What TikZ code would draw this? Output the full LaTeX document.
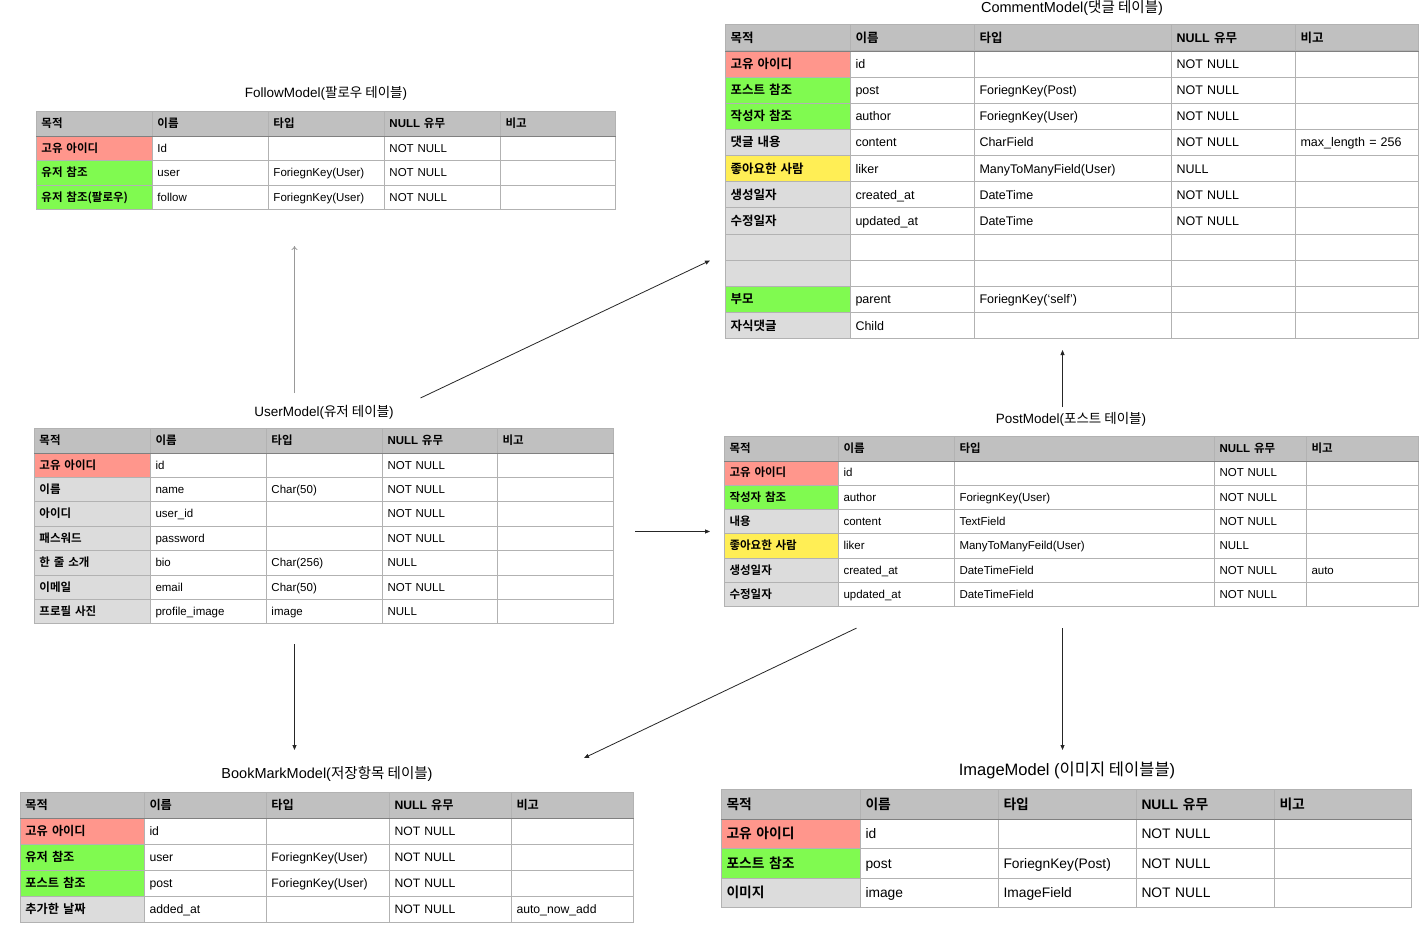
\documentclass[tikz,border=0pt]{standalone}
\usepackage{fontspec}
\setmainfont{Liberation Sans}
\newfontfamily\kr{Noto Sans CJK KR}[BoldFont={Noto Sans CJK KR Bold}]
\usetikzlibrary{matrix,arrows.meta}
\definecolor{keyred}{RGB}{255,150,140}
\definecolor{keygreen}{RGB}{128,250,80}
\definecolor{keyyellow}{RGB}{255,238,85}
\definecolor{keygray}{RGB}{220,220,220}
\definecolor{headgray}{RGB}{192,192,192}
\definecolor{gridgray}{RGB}{178,178,178}
\begin{document}
\begin{tikzpicture}[x=1pt,y=-1pt,
    title/.style={inner sep=1pt, font=\fontsize{13.5}{16}\selectfont},
    tbl/.style={matrix of nodes, nodes in empty cells, inner sep=0pt, column sep=-0.6pt, row sep=-0.6pt, anchor=north west,
        font=\fontsize{#1}{#1}\selectfont,
        nodes={draw=gridgray, line width=0.6pt, fill=white, anchor=center, align=left, inner xsep=5pt, inner ysep=0pt},
        row 1/.style={nodes={fill=headgray, font=\fontsize{#1}{#1}\selectfont\bfseries}},
        column 1/.style={nodes={fill=keygray, font=\fontsize{#1}{#1}\selectfont\kr\bfseries}}},
    cols/.style n args={5}{column 1/.append style={nodes={text width=#1}},
        column 2/.style={nodes={text width=#2}}, column 3/.style={nodes={text width=#3}},
        column 4/.style={nodes={text width=#4}}, column 5/.style={nodes={text width=#5}}},
    arr/.style={-{Triangle[length=5pt,width=4pt]}, line width=0.8pt, black!85},
    openarr/.style={-{To[length=4pt,width=6pt]}, line width=0.8pt, gray!80},
    headline/.style={draw=gray, line width=0.9pt}]
    \fill[white] (0,0) rectangle (1426,944);
    \useasboundingbox (0,0) rectangle (1426,944);

    \node[title] (followtitle) at (326,93) {FollowModel({\kr 팔로우 테이블})};
    \matrix (follow) [tbl=11.5, cols={106pt}{106pt}{106pt}{106pt}{105pt},
        nodes={minimum height=24.5pt, text height=9pt, text depth=1.2pt}] at (36,111) {
        {\kr 목적} & {\kr 이름} & {\kr 타입} & NULL {\kr 유무} & {\kr 비고} \\
        |[fill=keyred]| 고유 아이디 & Id & & NOT NULL & \\
        |[fill=keygreen]| 유저 참조 & user & ForiegnKey(User) & NOT NULL & \\
        |[fill=keygreen]| 유저 참조(팔로우) & follow & ForiegnKey(User) & NOT NULL & \\
    };

    \node[title] (usertitle) at (324,412) {UserModel({\kr 유저 테이블})};
    \matrix (user) [tbl=11.5, cols={106pt}{106pt}{106pt}{105pt}{106pt},
        nodes={minimum height=24.4pt, text height=9pt, text depth=1.2pt}] at (34,428) {
        {\kr 목적} & {\kr 이름} & {\kr 타입} & NULL {\kr 유무} & {\kr 비고} \\
        |[fill=keyred]| 고유 아이디 & id & & NOT NULL & \\
        이름 & name & Char(50) & NOT NULL & \\
        아이디 & user\_id & & NOT NULL & \\
        패스워드 & password & & NOT NULL & \\
        한 줄 소개 & bio & Char(256) & NULL & \\
        이메일 & email & Char(50) & NOT NULL & \\
        프로필 사진 & profile\_image & image & NULL & \\
    };

    \node[title, font=\fontsize{14.5}{17}\selectfont] (commenttitle) at (1072,8) {CommentModel({\kr 댓글 테이블})};
    \matrix (comment) [tbl=12.5, cols={115pt}{114pt}{187pt}{114pt}{113pt},
        nodes={minimum height=26.17pt, text height=10pt, text depth=0.8pt}] at (725,24) {
        {\kr 목적} & {\kr 이름} & {\kr 타입} & NULL {\kr 유무} & {\kr 비고} \\
        |[fill=keyred]| 고유 아이디 & id & & NOT NULL & \\
        |[fill=keygreen]| 포스트 참조 & post & ForiegnKey(Post) & NOT NULL & \\
        |[fill=keygreen]| 작성자 참조 & author & ForiegnKey(User) & NOT NULL & \\
        댓글 내용 & content & CharField & NOT NULL & max\_length = 256 \\
        |[fill=keyyellow]| 좋아요한 사람 & liker & ManyToManyField(User) & NULL & \\
        생성일자 & created\_at & DateTime & NOT NULL & \\
        수정일자 & updated\_at & DateTime & NOT NULL & \\
        & & & & \\
        & & & & \\
        |[fill=keygreen]| 부모 & parent & ForiegnKey(‘self’) & & \\
        자식댓글 & Child & & & \\
    };

    \node[title] (posttitle) at (1071,419) {PostModel({\kr 포스트 테이블})};
    \matrix (post) [tbl=11.5, cols={104pt}{106pt}{250pt}{82pt}{102pt},
        nodes={minimum height=24.3pt, text height=9pt, text depth=1.2pt}] at (724,436) {
        {\kr 목적} & {\kr 이름} & {\kr 타입} & NULL {\kr 유무} & {\kr 비고} \\
        |[fill=keyred]| 고유 아이디 & id & & NOT NULL & \\
        |[fill=keygreen]| 작성자 참조 & author & ForiegnKey(User) & NOT NULL & \\
        내용 & content & TextField & NOT NULL & \\
        |[fill=keyyellow]| 좋아요한 사람 & liker & ManyToManyFeild(User) & NULL & \\
        생성일자 & created\_at & DateTimeField & NOT NULL & auto \\
        수정일자 & updated\_at & DateTimeField & NOT NULL & \\
    };

    \node[title, font=\fontsize{14.5}{17}\selectfont] (bookmarktitle) at (327,774) {BookMarkModel({\kr 저장항목 테이블})};
    \matrix (bookmark) [tbl=12.2, cols={114pt}{112pt}{113pt}{112pt}{112pt},
        nodes={minimum height=26pt, text height=9.7pt, text depth=1pt}] at (20,792) {
        {\kr 목적} & {\kr 이름} & {\kr 타입} & NULL {\kr 유무} & {\kr 비고} \\
        |[fill=keyred]| 고유 아이디 & id & & NOT NULL & \\
        |[fill=keygreen]| 유저 참조 & user & ForiegnKey(User) & NOT NULL & \\
        |[fill=keygreen]| 포스트 참조 & post & ForiegnKey(User) & NOT NULL & \\
        추가한 날짜 & added\_at & & NOT NULL & auto\_now\_add \\
    };

    \node[title, font=\fontsize{16.5}{19}\selectfont] (imagetitle) at (1067,770) {ImageModel ({\kr 이미지 테이블블})};
    \matrix (image) [tbl=13.8, cols={129pt}{128pt}{128pt}{128pt}{127pt},
        nodes={minimum height=29.5pt, text height=10.9pt, text depth=1pt}] at (721,789) {
        {\kr 목적} & {\kr 이름} & {\kr 타입} & NULL {\kr 유무} & {\kr 비고} \\
        |[fill=keyred]| 고유 아이디 & id & & NOT NULL & \\
        |[fill=keygreen]| 포스트 참조 & post & ForiegnKey(Post) & NOT NULL & \\
        이미지 & image & ImageField & NOT NULL & \\
    };

    \foreach \t in {follow,user,comment,post,bookmark,image}
        \draw[headline] (\t-1-1.south west) -- (\t-1-5.south east);

    \draw[openarr, shorten <=35pt, shorten >=36pt] ([xshift=-29.5pt]user.north) -- ([xshift=-29.5pt]user.north |- follow.south);
    \draw[arr] ([shift={(96.5,-30)}]user.north) -- ([shift={(-15,79)}]comment.west);
    \draw[arr, shorten >=14pt] ([shift={(21,5.4)}]user.east) -- ([shift={(0,5.4)}]user.east -| post.west);
    \draw[arr, shorten <=29pt, shorten >=11pt] ([xshift=-9pt]post.north) -- ([xshift=-9pt]post.north |- comment.south);
    \draw[arr, shorten <=20pt, shorten >=42pt] ([xshift=-29.5pt]user.south) -- ([xshift=-29.5pt]user.south |- bookmark.north);
    \draw[arr] ([shift={(-215,21)}]post.south) -- ([shift={(-50,-34)}]bookmark.north east);
    \draw[arr, shorten <=21pt, shorten >=39pt] ([xshift=-9pt]post.south) -- ([xshift=-9pt]post.south |- image.north);
\end{tikzpicture}
\end{document}
